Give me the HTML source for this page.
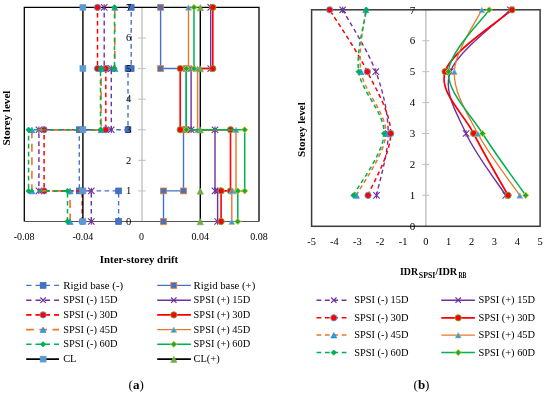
<!DOCTYPE html>
<html><head><meta charset="utf-8"><title>Inter-storey drift and IDR ratio</title>
<style>html,body{margin:0;padding:0;background:#fff;}body{width:550px;height:395px;overflow:hidden;}svg{display:block;}</style>
</head><body>
<svg width="550" height="395" viewBox="0 0 550 395" font-family="'Liberation Serif', serif" fill="#000">
<line x1="142" y1="8.1" x2="142" y2="221.5" stroke="#BFBFBF" stroke-width="1.3"/>
<line x1="138.2" y1="221.5" x2="145.7" y2="221.5" stroke="#BFBFBF" stroke-width="1"/>
<line x1="138.2" y1="190.91" x2="145.7" y2="190.91" stroke="#BFBFBF" stroke-width="1"/>
<line x1="138.2" y1="160.33" x2="145.7" y2="160.33" stroke="#BFBFBF" stroke-width="1"/>
<line x1="138.2" y1="129.74" x2="145.7" y2="129.74" stroke="#BFBFBF" stroke-width="1"/>
<line x1="138.2" y1="99.16" x2="145.7" y2="99.16" stroke="#BFBFBF" stroke-width="1"/>
<line x1="138.2" y1="68.57" x2="145.7" y2="68.57" stroke="#BFBFBF" stroke-width="1"/>
<line x1="138.2" y1="37.99" x2="145.7" y2="37.99" stroke="#BFBFBF" stroke-width="1"/>
<line x1="138.2" y1="7.4" x2="145.7" y2="7.4" stroke="#BFBFBF" stroke-width="1"/>
<path d="M24.3 221.5V7.4H259V221.5" fill="none" stroke="#000" stroke-width="1.3"/>
<line x1="24.3" y1="221.5" x2="259" y2="221.5" stroke="#555" stroke-width="1.2"/>
<line x1="425.85" y1="10.6" x2="425.85" y2="226.3" stroke="#BFBFBF" stroke-width="1.4"/>
<line x1="422.35" y1="226.3" x2="429.35" y2="226.3" stroke="#BFBFBF" stroke-width="1"/>
<line x1="422.35" y1="195.37" x2="429.35" y2="195.37" stroke="#BFBFBF" stroke-width="1"/>
<line x1="422.35" y1="164.44" x2="429.35" y2="164.44" stroke="#BFBFBF" stroke-width="1"/>
<line x1="422.35" y1="133.51" x2="429.35" y2="133.51" stroke="#BFBFBF" stroke-width="1"/>
<line x1="422.35" y1="102.59" x2="429.35" y2="102.59" stroke="#BFBFBF" stroke-width="1"/>
<line x1="422.35" y1="71.66" x2="429.35" y2="71.66" stroke="#BFBFBF" stroke-width="1"/>
<line x1="422.35" y1="40.73" x2="429.35" y2="40.73" stroke="#BFBFBF" stroke-width="1"/>
<line x1="422.35" y1="9.8" x2="429.35" y2="9.8" stroke="#BFBFBF" stroke-width="1"/>
<rect x="311.6" y="9.8" width="228.5" height="216.5" fill="none" stroke="#3A3A3A" stroke-width="1.5"/>
<polyline points="118.6,221.5 118.6,190.91 79.3,190.91 79.3,129.74 128,129.74 128,68.57 131.2,68.57 131.2,7.4" fill="none" stroke="#4472C4" stroke-width="1.4" stroke-dasharray="4.6 3.4" stroke-linejoin="round"/>
<rect x="115.7" y="218.6" width="5.8" height="5.8" fill="#4472C4" stroke="#3A62AE" stroke-width="0.7"/>
<rect x="115.7" y="188.01" width="5.8" height="5.8" fill="#4472C4" stroke="#3A62AE" stroke-width="0.7"/>
<rect x="76.4" y="188.01" width="5.8" height="5.8" fill="#4472C4" stroke="#3A62AE" stroke-width="0.7"/>
<rect x="76.4" y="126.84" width="5.8" height="5.8" fill="#4472C4" stroke="#3A62AE" stroke-width="0.7"/>
<rect x="125.1" y="126.84" width="5.8" height="5.8" fill="#4472C4" stroke="#3A62AE" stroke-width="0.7"/>
<rect x="125.1" y="65.67" width="5.8" height="5.8" fill="#4472C4" stroke="#3A62AE" stroke-width="0.7"/>
<rect x="128.3" y="65.67" width="5.8" height="5.8" fill="#4472C4" stroke="#3A62AE" stroke-width="0.7"/>
<rect x="128.3" y="4.5" width="5.8" height="5.8" fill="#4472C4" stroke="#3A62AE" stroke-width="0.7"/>
<polyline points="163.5,221.5 163.5,190.91 183.5,190.91 183.5,129.74 186.2,129.74 186.2,68.57 160.6,68.57 160.6,7.4" fill="none" stroke="#4472C4" stroke-width="1.4" stroke-linejoin="round"/>
<rect x="160.6" y="218.6" width="5.8" height="5.8" fill="#4472C4" stroke="#EC7629" stroke-width="0.8"/>
<rect x="160.6" y="188.01" width="5.8" height="5.8" fill="#4472C4" stroke="#EC7629" stroke-width="0.8"/>
<rect x="180.6" y="188.01" width="5.8" height="5.8" fill="#4472C4" stroke="#EC7629" stroke-width="0.8"/>
<rect x="180.6" y="126.84" width="5.8" height="5.8" fill="#4472C4" stroke="#EC7629" stroke-width="0.8"/>
<rect x="183.3" y="126.84" width="5.8" height="5.8" fill="#4472C4" stroke="#EC7629" stroke-width="0.8"/>
<rect x="183.3" y="65.67" width="5.8" height="5.8" fill="#4472C4" stroke="#EC7629" stroke-width="0.8"/>
<rect x="157.7" y="65.67" width="5.8" height="5.8" fill="#4472C4" stroke="#EC7629" stroke-width="0.8"/>
<rect x="157.7" y="4.5" width="5.8" height="5.8" fill="#4472C4" stroke="#EC7629" stroke-width="0.8"/>
<polyline points="91.3,221.5 91.3,190.91 38.9,190.91 38.9,129.74 111.3,129.74 111.3,68.57 104.2,68.57 104.2,7.4" fill="none" stroke="#7030A0" stroke-width="1.4" stroke-dasharray="4.6 3.4" stroke-linejoin="round"/>
<path d="M88.1 218.3L94.5 224.7M88.1 224.7L94.5 218.3M91.3 218.3V224.7" stroke="#7030A0" stroke-width="1.1" fill="none"/>
<path d="M88.1 187.71L94.5 194.11M88.1 194.11L94.5 187.71M91.3 187.71V194.11" stroke="#7030A0" stroke-width="1.1" fill="none"/>
<path d="M35.7 187.71L42.1 194.11M35.7 194.11L42.1 187.71M38.9 187.71V194.11" stroke="#7030A0" stroke-width="1.1" fill="none"/>
<path d="M35.7 126.54L42.1 132.94M35.7 132.94L42.1 126.54M38.9 126.54V132.94" stroke="#7030A0" stroke-width="1.1" fill="none"/>
<path d="M108.1 126.54L114.5 132.94M108.1 132.94L114.5 126.54M111.3 126.54V132.94" stroke="#7030A0" stroke-width="1.1" fill="none"/>
<path d="M108.1 65.37L114.5 71.77M108.1 71.77L114.5 65.37M111.3 65.37V71.77" stroke="#7030A0" stroke-width="1.1" fill="none"/>
<path d="M101 65.37L107.4 71.77M101 71.77L107.4 65.37M104.2 65.37V71.77" stroke="#7030A0" stroke-width="1.1" fill="none"/>
<path d="M101 4.2L107.4 10.6M101 10.6L107.4 4.2M104.2 4.2V10.6" stroke="#7030A0" stroke-width="1.1" fill="none"/>
<polyline points="217.6,221.5 217.6,190.91 215,190.91 215,129.74 191.1,129.74 191.1,68.57 210.7,68.57 210.7,7.4" fill="none" stroke="#7030A0" stroke-width="1.4" stroke-linejoin="round"/>
<path d="M214.4 218.3L220.8 224.7M214.4 224.7L220.8 218.3M217.6 218.3V224.7" stroke="#7030A0" stroke-width="1.1" fill="none"/>
<path d="M214.4 187.71L220.8 194.11M214.4 194.11L220.8 187.71M217.6 187.71V194.11" stroke="#7030A0" stroke-width="1.1" fill="none"/>
<path d="M211.8 187.71L218.2 194.11M211.8 194.11L218.2 187.71M215 187.71V194.11" stroke="#7030A0" stroke-width="1.1" fill="none"/>
<path d="M211.8 126.54L218.2 132.94M211.8 132.94L218.2 126.54M215 126.54V132.94" stroke="#7030A0" stroke-width="1.1" fill="none"/>
<path d="M187.9 126.54L194.3 132.94M187.9 132.94L194.3 126.54M191.1 126.54V132.94" stroke="#7030A0" stroke-width="1.1" fill="none"/>
<path d="M187.9 65.37L194.3 71.77M187.9 71.77L194.3 65.37M191.1 65.37V71.77" stroke="#7030A0" stroke-width="1.1" fill="none"/>
<path d="M207.5 65.37L213.9 71.77M207.5 71.77L213.9 65.37M210.7 65.37V71.77" stroke="#7030A0" stroke-width="1.1" fill="none"/>
<path d="M207.5 4.2L213.9 10.6M207.5 10.6L213.9 4.2M210.7 4.2V10.6" stroke="#7030A0" stroke-width="1.1" fill="none"/>
<polyline points="82.2,221.5 82.2,190.91 44.1,190.91 44.1,129.74 105.8,129.74 105.8,68.57 97.5,68.57 97.5,7.4" fill="none" stroke="#FF0000" stroke-width="1.5" stroke-dasharray="4.6 3.4" stroke-linejoin="round"/>
<circle cx="82.2" cy="221.5" r="3.15" fill="#FF0000" stroke="#5B9BD5" stroke-width="0.9"/>
<circle cx="82.2" cy="190.91" r="3.15" fill="#FF0000" stroke="#5B9BD5" stroke-width="0.9"/>
<circle cx="44.1" cy="190.91" r="3.15" fill="#FF0000" stroke="#5B9BD5" stroke-width="0.9"/>
<circle cx="44.1" cy="129.74" r="3.15" fill="#FF0000" stroke="#5B9BD5" stroke-width="0.9"/>
<circle cx="105.8" cy="129.74" r="3.15" fill="#FF0000" stroke="#5B9BD5" stroke-width="0.9"/>
<circle cx="105.8" cy="68.57" r="3.15" fill="#FF0000" stroke="#5B9BD5" stroke-width="0.9"/>
<circle cx="97.5" cy="68.57" r="3.15" fill="#FF0000" stroke="#5B9BD5" stroke-width="0.9"/>
<circle cx="97.5" cy="7.4" r="3.15" fill="#FF0000" stroke="#5B9BD5" stroke-width="0.9"/>
<polyline points="221.1,221.5 221.1,190.91 230.5,190.91 230.5,129.74 180.2,129.74 180.2,68.57 212.8,68.57 212.8,7.4" fill="none" stroke="#FF0000" stroke-width="1.6" stroke-linejoin="round"/>
<circle cx="221.1" cy="221.5" r="3.15" fill="#FF0000" stroke="#70AD47" stroke-width="0.9"/>
<circle cx="221.1" cy="190.91" r="3.15" fill="#FF0000" stroke="#70AD47" stroke-width="0.9"/>
<circle cx="230.5" cy="190.91" r="3.15" fill="#FF0000" stroke="#70AD47" stroke-width="0.9"/>
<circle cx="230.5" cy="129.74" r="3.15" fill="#FF0000" stroke="#70AD47" stroke-width="0.9"/>
<circle cx="180.2" cy="129.74" r="3.15" fill="#FF0000" stroke="#70AD47" stroke-width="0.9"/>
<circle cx="180.2" cy="68.57" r="3.15" fill="#FF0000" stroke="#70AD47" stroke-width="0.9"/>
<circle cx="212.8" cy="68.57" r="3.15" fill="#FF0000" stroke="#70AD47" stroke-width="0.9"/>
<circle cx="212.8" cy="7.4" r="3.15" fill="#FF0000" stroke="#70AD47" stroke-width="0.9"/>
<polyline points="70.1,221.5 70.1,190.91 31.9,190.91 31.9,129.74 101.1,129.74 101.1,68.57 114.8,68.57 114.8,7.4" fill="none" stroke="#EC7629" stroke-width="1.6" stroke-dasharray="8 5.5" stroke-linejoin="round"/>
<path d="M70.1 218.9L73.1 224.4L67.1 224.4Z" fill="#12A6F0" stroke="#4472C4" stroke-width="0.6" stroke-linejoin="round"/>
<path d="M70.1 188.31L73.1 193.81L67.1 193.81Z" fill="#12A6F0" stroke="#4472C4" stroke-width="0.6" stroke-linejoin="round"/>
<path d="M31.9 188.31L34.9 193.81L28.9 193.81Z" fill="#12A6F0" stroke="#4472C4" stroke-width="0.6" stroke-linejoin="round"/>
<path d="M31.9 127.14L34.9 132.64L28.9 132.64Z" fill="#12A6F0" stroke="#4472C4" stroke-width="0.6" stroke-linejoin="round"/>
<path d="M101.1 127.14L104.1 132.64L98.1 132.64Z" fill="#12A6F0" stroke="#4472C4" stroke-width="0.6" stroke-linejoin="round"/>
<path d="M101.1 65.97L104.1 71.47L98.1 71.47Z" fill="#12A6F0" stroke="#4472C4" stroke-width="0.6" stroke-linejoin="round"/>
<path d="M114.8 65.97L117.8 71.47L111.8 71.47Z" fill="#12A6F0" stroke="#4472C4" stroke-width="0.6" stroke-linejoin="round"/>
<path d="M114.8 4.8L117.8 10.3L111.8 10.3Z" fill="#12A6F0" stroke="#4472C4" stroke-width="0.6" stroke-linejoin="round"/>
<polyline points="231.8,221.5 231.8,190.91 236,190.91 236,129.74 197.6,129.74 197.6,68.57 188.5,68.57 188.5,7.4" fill="none" stroke="#EC7629" stroke-width="1.4" stroke-linejoin="round"/>
<path d="M231.8 218.9L234.8 224.4L228.8 224.4Z" fill="#12A6F0" stroke="#F4A070" stroke-width="0.6" stroke-linejoin="round"/>
<path d="M231.8 188.31L234.8 193.81L228.8 193.81Z" fill="#12A6F0" stroke="#F4A070" stroke-width="0.6" stroke-linejoin="round"/>
<path d="M236 188.31L239 193.81L233 193.81Z" fill="#12A6F0" stroke="#F4A070" stroke-width="0.6" stroke-linejoin="round"/>
<path d="M236 127.14L239 132.64L233 132.64Z" fill="#12A6F0" stroke="#F4A070" stroke-width="0.6" stroke-linejoin="round"/>
<path d="M197.6 127.14L200.6 132.64L194.6 132.64Z" fill="#12A6F0" stroke="#F4A070" stroke-width="0.6" stroke-linejoin="round"/>
<path d="M197.6 65.97L200.6 71.47L194.6 71.47Z" fill="#12A6F0" stroke="#F4A070" stroke-width="0.6" stroke-linejoin="round"/>
<path d="M188.5 65.97L191.5 71.47L185.5 71.47Z" fill="#12A6F0" stroke="#F4A070" stroke-width="0.6" stroke-linejoin="round"/>
<path d="M188.5 4.8L191.5 10.3L185.5 10.3Z" fill="#12A6F0" stroke="#F4A070" stroke-width="0.6" stroke-linejoin="round"/>
<polyline points="67.5,221.5 67.5,190.91 28.6,190.91 28.6,129.74 100.5,129.74 100.5,68.57 114.5,68.57 114.5,7.4" fill="none" stroke="#00B050" stroke-width="1.5" stroke-dasharray="4.6 3.4" stroke-linejoin="round"/>
<path d="M67.5 218.8L70.2 221.5L67.5 224.2L64.8 221.5Z" fill="#00B050" stroke="#00B050" stroke-width="0.7"/>
<path d="M67.5 188.21L70.2 190.91L67.5 193.61L64.8 190.91Z" fill="#00B050" stroke="#00B050" stroke-width="0.7"/>
<path d="M28.6 188.21L31.3 190.91L28.6 193.61L25.9 190.91Z" fill="#00B050" stroke="#00B050" stroke-width="0.7"/>
<path d="M28.6 127.04L31.3 129.74L28.6 132.44L25.9 129.74Z" fill="#00B050" stroke="#00B050" stroke-width="0.7"/>
<path d="M100.5 127.04L103.2 129.74L100.5 132.44L97.8 129.74Z" fill="#00B050" stroke="#00B050" stroke-width="0.7"/>
<path d="M100.5 65.87L103.2 68.57L100.5 71.27L97.8 68.57Z" fill="#00B050" stroke="#00B050" stroke-width="0.7"/>
<path d="M114.5 65.87L117.2 68.57L114.5 71.27L111.8 68.57Z" fill="#00B050" stroke="#00B050" stroke-width="0.7"/>
<path d="M114.5 4.7L117.2 7.4L114.5 10.1L111.8 7.4Z" fill="#00B050" stroke="#00B050" stroke-width="0.7"/>
<polyline points="237.8,221.5 237.8,190.91 244.7,190.91 244.7,129.74 186.3,129.74 186.3,68.57 194,68.57 194,7.4" fill="none" stroke="#00B050" stroke-width="1.5" stroke-linejoin="round"/>
<path d="M237.8 218.4L240.9 221.5L237.8 224.6L234.7 221.5Z" fill="#00B050" stroke="#FFC000" stroke-width="0.95"/>
<path d="M237.8 187.81L240.9 190.91L237.8 194.01L234.7 190.91Z" fill="#00B050" stroke="#FFC000" stroke-width="0.95"/>
<path d="M244.7 187.81L247.8 190.91L244.7 194.01L241.6 190.91Z" fill="#00B050" stroke="#FFC000" stroke-width="0.95"/>
<path d="M244.7 126.64L247.8 129.74L244.7 132.84L241.6 129.74Z" fill="#00B050" stroke="#FFC000" stroke-width="0.95"/>
<path d="M186.3 126.64L189.4 129.74L186.3 132.84L183.2 129.74Z" fill="#00B050" stroke="#FFC000" stroke-width="0.95"/>
<path d="M186.3 65.47L189.4 68.57L186.3 71.67L183.2 68.57Z" fill="#00B050" stroke="#FFC000" stroke-width="0.95"/>
<path d="M194 65.47L197.1 68.57L194 71.67L190.9 68.57Z" fill="#00B050" stroke="#FFC000" stroke-width="0.95"/>
<path d="M194 4.3L197.1 7.4L194 10.5L190.9 7.4Z" fill="#00B050" stroke="#FFC000" stroke-width="0.95"/>
<line x1="82.9" y1="221.5" x2="82.9" y2="7.4" stroke="#000" stroke-width="1.4"/>
<rect x="79.9" y="218.5" width="6" height="6" fill="#5B9BD5" stroke="#5B9BD5" stroke-width="0.5"/>
<rect x="79.9" y="187.91" width="6" height="6" fill="#5B9BD5" stroke="#5B9BD5" stroke-width="0.5"/>
<rect x="79.9" y="126.74" width="6" height="6" fill="#5B9BD5" stroke="#5B9BD5" stroke-width="0.5"/>
<rect x="79.9" y="65.57" width="6" height="6" fill="#5B9BD5" stroke="#5B9BD5" stroke-width="0.5"/>
<rect x="79.9" y="4.4" width="6" height="6" fill="#5B9BD5" stroke="#5B9BD5" stroke-width="0.5"/>
<line x1="200.3" y1="221.5" x2="200.3" y2="7.4" stroke="#000" stroke-width="1.4"/>
<path d="M200.3 218.6L203.5 224.8L197.1 224.8Z" fill="#70AD47" stroke="#70AD47" stroke-width="0.5" stroke-linejoin="round"/>
<path d="M200.3 188.01L203.5 194.21L197.1 194.21Z" fill="#70AD47" stroke="#70AD47" stroke-width="0.5" stroke-linejoin="round"/>
<path d="M200.3 126.84L203.5 133.04L197.1 133.04Z" fill="#70AD47" stroke="#70AD47" stroke-width="0.5" stroke-linejoin="round"/>
<path d="M200.3 65.67L203.5 71.87L197.1 71.87Z" fill="#70AD47" stroke="#70AD47" stroke-width="0.5" stroke-linejoin="round"/>
<path d="M200.3 4.5L203.5 10.7L197.1 10.7Z" fill="#70AD47" stroke="#70AD47" stroke-width="0.5" stroke-linejoin="round"/>
<path d="M376.49 195.37C378.44 185.06 388.26 154.13 388.15 133.51C388.03 112.9 383.39 92.28 375.81 71.66C368.23 51.04 348.2 20.11 342.68 9.8" fill="none" stroke="#7030A0" stroke-width="1.4" stroke-dasharray="4.2 3.2"/>
<path d="M368.04 195.37C371.81 185.06 390.78 154.13 390.66 133.51C390.55 112.9 377.52 92.28 367.35 71.66C357.19 51.04 335.94 20.11 329.65 9.8" fill="none" stroke="#FF0000" stroke-width="1.5" stroke-dasharray="4.2 3.2"/>
<path d="M356.39 195.37C361.3 185.06 385.1 154.13 385.86 133.51C386.62 112.9 364.31 92.28 360.96 71.66C357.6 51.04 364.95 20.11 365.75 9.8" fill="none" stroke="#EC7629" stroke-width="1.5" stroke-dasharray="4.2 3.2"/>
<path d="M353.42 195.37C358.52 185.06 383.16 154.13 384.03 133.51C384.91 112.9 361.6 92.28 358.67 71.66C355.74 51.04 365.15 20.11 366.44 9.8" fill="none" stroke="#00B050" stroke-width="1.5" stroke-dasharray="4.2 3.2"/>
<path d="M505.83 195.37C499.2 185.06 475.32 154.13 466.07 133.51C456.81 112.9 442.91 92.28 450.3 71.66C457.69 51.04 500.38 20.11 510.4 9.8" fill="none" stroke="#7030A0" stroke-width="1.4"/>
<path d="M508.11 195.37C502.36 185.06 484.12 154.13 473.61 133.51C463.1 112.9 438.65 92.28 445.04 71.66C451.44 51.04 500.84 20.11 511.99 9.8" fill="none" stroke="#FF0000" stroke-width="1.7"/>
<path d="M519.76 195.37C512.76 185.06 488.63 154.13 477.72 133.51C466.81 112.9 453.61 92.28 454.3 71.66C454.98 51.04 477.24 20.11 481.83 9.8" fill="none" stroke="#EC7629" stroke-width="1.3"/>
<path d="M525.7 195.37C518.51 185.06 495.39 154.13 482.52 133.51C469.65 112.9 447.37 92.28 448.47 71.66C449.58 51.04 482.37 20.11 489.14 9.8" fill="none" stroke="#00B050" stroke-width="1.5"/>
<path d="M373.29 192.17L379.69 198.57M373.29 198.57L379.69 192.17M376.49 192.17V198.57" stroke="#7030A0" stroke-width="1.1" fill="none"/>
<path d="M384.95 130.31L391.35 136.71M384.95 136.71L391.35 130.31M388.15 130.31V136.71" stroke="#7030A0" stroke-width="1.1" fill="none"/>
<path d="M372.61 68.46L379.01 74.86M372.61 74.86L379.01 68.46M375.81 68.46V74.86" stroke="#7030A0" stroke-width="1.1" fill="none"/>
<path d="M339.48 6.6L345.88 13M339.48 13L345.88 6.6M342.68 6.6V13" stroke="#7030A0" stroke-width="1.1" fill="none"/>
<circle cx="368.04" cy="195.37" r="3.15" fill="#FF0000" stroke="#5B9BD5" stroke-width="0.9"/>
<circle cx="390.66" cy="133.51" r="3.15" fill="#FF0000" stroke="#5B9BD5" stroke-width="0.9"/>
<circle cx="367.35" cy="71.66" r="3.15" fill="#FF0000" stroke="#5B9BD5" stroke-width="0.9"/>
<circle cx="329.65" cy="9.8" r="3.15" fill="#FF0000" stroke="#5B9BD5" stroke-width="0.9"/>
<path d="M356.39 192.77L359.39 198.27L353.39 198.27Z" fill="#12A6F0" stroke="#4472C4" stroke-width="0.6" stroke-linejoin="round"/>
<path d="M385.86 130.91L388.86 136.41L382.86 136.41Z" fill="#12A6F0" stroke="#4472C4" stroke-width="0.6" stroke-linejoin="round"/>
<path d="M360.96 69.06L363.96 74.56L357.96 74.56Z" fill="#12A6F0" stroke="#4472C4" stroke-width="0.6" stroke-linejoin="round"/>
<path d="M365.75 7.2L368.75 12.7L362.75 12.7Z" fill="#12A6F0" stroke="#4472C4" stroke-width="0.6" stroke-linejoin="round"/>
<path d="M353.42 192.67L356.12 195.37L353.42 198.07L350.72 195.37Z" fill="#00B050" stroke="#00B050" stroke-width="0.7"/>
<path d="M384.03 130.81L386.73 133.51L384.03 136.21L381.33 133.51Z" fill="#00B050" stroke="#00B050" stroke-width="0.7"/>
<path d="M358.67 68.96L361.37 71.66L358.67 74.36L355.97 71.66Z" fill="#00B050" stroke="#00B050" stroke-width="0.7"/>
<path d="M366.44 7.1L369.14 9.8L366.44 12.5L363.74 9.8Z" fill="#00B050" stroke="#00B050" stroke-width="0.7"/>
<path d="M502.63 192.17L509.03 198.57M502.63 198.57L509.03 192.17M505.83 192.17V198.57" stroke="#7030A0" stroke-width="1.1" fill="none"/>
<path d="M462.87 130.31L469.27 136.71M462.87 136.71L469.27 130.31M466.07 130.31V136.71" stroke="#7030A0" stroke-width="1.1" fill="none"/>
<path d="M447.1 68.46L453.5 74.86M447.1 74.86L453.5 68.46M450.3 68.46V74.86" stroke="#7030A0" stroke-width="1.1" fill="none"/>
<path d="M507.2 6.6L513.6 13M507.2 13L513.6 6.6M510.4 6.6V13" stroke="#7030A0" stroke-width="1.1" fill="none"/>
<circle cx="508.11" cy="195.37" r="3.15" fill="#FF0000" stroke="#70AD47" stroke-width="0.9"/>
<circle cx="473.61" cy="133.51" r="3.15" fill="#FF0000" stroke="#70AD47" stroke-width="0.9"/>
<circle cx="445.04" cy="71.66" r="3.15" fill="#FF0000" stroke="#70AD47" stroke-width="0.9"/>
<circle cx="511.99" cy="9.8" r="3.15" fill="#FF0000" stroke="#70AD47" stroke-width="0.9"/>
<path d="M519.76 192.77L522.76 198.27L516.76 198.27Z" fill="#12A6F0" stroke="#F4A070" stroke-width="0.6" stroke-linejoin="round"/>
<path d="M477.72 130.91L480.72 136.41L474.72 136.41Z" fill="#12A6F0" stroke="#F4A070" stroke-width="0.6" stroke-linejoin="round"/>
<path d="M454.3 69.06L457.3 74.56L451.3 74.56Z" fill="#12A6F0" stroke="#F4A070" stroke-width="0.6" stroke-linejoin="round"/>
<path d="M481.83 7.2L484.83 12.7L478.83 12.7Z" fill="#12A6F0" stroke="#F4A070" stroke-width="0.6" stroke-linejoin="round"/>
<path d="M525.7 192.27L528.8 195.37L525.7 198.47L522.6 195.37Z" fill="#00B050" stroke="#FFC000" stroke-width="0.95"/>
<path d="M482.52 130.41L485.62 133.51L482.52 136.61L479.42 133.51Z" fill="#00B050" stroke="#FFC000" stroke-width="0.95"/>
<path d="M448.47 68.56L451.57 71.66L448.47 74.76L445.37 71.66Z" fill="#00B050" stroke="#FFC000" stroke-width="0.95"/>
<path d="M489.14 6.7L492.24 9.8L489.14 12.9L486.04 9.8Z" fill="#00B050" stroke="#FFC000" stroke-width="0.95"/>
<text x="131.3" y="224.7" font-size="10.6" text-anchor="end">0</text>
<text x="131.3" y="194.11" font-size="10.6" text-anchor="end">1</text>
<text x="131.3" y="163.53" font-size="10.6" text-anchor="end">2</text>
<text x="131.3" y="132.94" font-size="10.6" text-anchor="end">3</text>
<text x="131.3" y="102.36" font-size="10.6" text-anchor="end">4</text>
<text x="131.3" y="71.77" font-size="10.6" text-anchor="end">5</text>
<text x="131.3" y="41.19" font-size="10.6" text-anchor="end">6</text>
<text x="131.3" y="10.6" font-size="10.6" text-anchor="end">7</text>
<text x="24.2" y="239.9" font-size="10" text-anchor="middle">-0.08</text>
<text x="82.9" y="239.9" font-size="10" text-anchor="middle">-0.04</text>
<text x="141.6" y="239.9" font-size="10" text-anchor="middle">0</text>
<text x="200.3" y="239.9" font-size="10" text-anchor="middle">0.04</text>
<text x="259" y="239.9" font-size="10" text-anchor="middle">0.08</text>
<text x="139" y="263.2" font-size="10.8" text-anchor="middle" font-weight="bold">Inter-storey drift</text>
<text transform="translate(9.6 118.1) rotate(-90)" font-size="10.8" font-weight="bold" text-anchor="middle" textLength="55" lengthAdjust="spacingAndGlyphs">Storey level</text>
<text x="415.2" y="230" font-size="11" text-anchor="end">0</text>
<text x="415.2" y="199.07" font-size="11" text-anchor="end">1</text>
<text x="415.2" y="168.14" font-size="11" text-anchor="end">2</text>
<text x="415.2" y="137.21" font-size="11" text-anchor="end">3</text>
<text x="415.2" y="106.29" font-size="11" text-anchor="end">4</text>
<text x="415.2" y="75.36" font-size="11" text-anchor="end">5</text>
<text x="415.2" y="44.43" font-size="11" text-anchor="end">6</text>
<text x="415.2" y="13.5" font-size="11" text-anchor="end">7</text>
<text x="311.6" y="244.8" font-size="10.4" text-anchor="middle">-5</text>
<text x="334.45" y="244.8" font-size="10.4" text-anchor="middle">-4</text>
<text x="357.3" y="244.8" font-size="10.4" text-anchor="middle">-3</text>
<text x="380.15" y="244.8" font-size="10.4" text-anchor="middle">-2</text>
<text x="403" y="244.8" font-size="10.4" text-anchor="middle">-1</text>
<text x="425.85" y="244.8" font-size="10.4" text-anchor="middle">0</text>
<text x="448.7" y="244.8" font-size="10.4" text-anchor="middle">1</text>
<text x="471.55" y="244.8" font-size="10.4" text-anchor="middle">2</text>
<text x="494.4" y="244.8" font-size="10.4" text-anchor="middle">3</text>
<text x="517.25" y="244.8" font-size="10.4" text-anchor="middle">4</text>
<text x="540.1" y="244.8" font-size="10.4" text-anchor="middle">5</text>
<text transform="translate(304.7 129.6) rotate(-90)" font-size="10.6" font-weight="bold" text-anchor="middle" textLength="54.7" lengthAdjust="spacingAndGlyphs">Storey level</text>
<text y="274.6" font-size="10.3" font-weight="bold"><tspan x="400" textLength="18" lengthAdjust="spacingAndGlyphs">IDR</tspan><tspan x="418.8" y="277.5" font-size="7.5" textLength="16.6" lengthAdjust="spacingAndGlyphs">SPSI</tspan><tspan x="435.6" y="274.6" textLength="21.6" lengthAdjust="spacingAndGlyphs">/IDR</tspan><tspan x="458.4" y="277.5" font-size="7.5" textLength="8" lengthAdjust="spacingAndGlyphs">RB</tspan></text>
<line x1="26.2" y1="285.4" x2="59" y2="285.4" stroke="#4472C4" stroke-width="1.4" stroke-dasharray="5.3 4"/>
<rect x="40.2" y="282.5" width="5.8" height="5.8" fill="#4472C4" stroke="#3A62AE" stroke-width="0.7"/>
<text x="63.2" y="288.5" font-size="10.4" text-anchor="start" textLength="60.0" lengthAdjust="spacingAndGlyphs">Rigid base (-)</text>
<line x1="26.2" y1="300.2" x2="59" y2="300.2" stroke="#7030A0" stroke-width="1.4" stroke-dasharray="5.3 4"/>
<path d="M40.4 297.5L45.8 302.9M40.4 302.9L45.8 297.5" stroke="#7030A0" stroke-width="1.2" fill="none"/>
<text x="63.2" y="303.3" font-size="10.4" text-anchor="start">SPSI (-) 15D</text>
<line x1="26.2" y1="314.9" x2="59" y2="314.9" stroke="#FF0000" stroke-width="1.6" stroke-dasharray="5.3 4"/>
<circle cx="43.1" cy="314.9" r="3.15" fill="#FF0000" stroke="#5B9BD5" stroke-width="0.9"/>
<text x="63.2" y="318" font-size="10.4" text-anchor="start">SPSI (-) 30D</text>
<line x1="26.2" y1="329.6" x2="59" y2="329.6" stroke="#EC7629" stroke-width="1.7" stroke-dasharray="7.6 5.6"/>
<path d="M43.1 327L46.1 332.5L40.1 332.5Z" fill="#12A6F0" stroke="#4472C4" stroke-width="0.6" stroke-linejoin="round"/>
<text x="63.2" y="332.7" font-size="10.4" text-anchor="start">SPSI (-) 45D</text>
<line x1="26.2" y1="344.3" x2="59" y2="344.3" stroke="#00B050" stroke-width="1.5" stroke-dasharray="5.3 4"/>
<path d="M43.1 341.6L45.8 344.3L43.1 347L40.4 344.3Z" fill="#00B050" stroke="#00B050" stroke-width="0.7"/>
<text x="63.2" y="347.4" font-size="10.4" text-anchor="start">SPSI (-) 60D</text>
<line x1="26.2" y1="359.1" x2="59" y2="359.1" stroke="#000" stroke-width="1.6"/>
<rect x="40.1" y="356.1" width="6" height="6" fill="#5B9BD5" stroke="#5B9BD5" stroke-width="0.5"/>
<text x="63.2" y="362.2" font-size="10.4" text-anchor="start">CL</text>
<line x1="157.2" y1="285.4" x2="190.9" y2="285.4" stroke="#4472C4" stroke-width="1.4"/>
<rect x="170.9" y="282.5" width="5.8" height="5.8" fill="#4472C4" stroke="#EC7629" stroke-width="0.8"/>
<text x="193.6" y="288.5" font-size="10.4" text-anchor="start" textLength="61.7" lengthAdjust="spacingAndGlyphs">Rigid base (+)</text>
<line x1="157.2" y1="300.2" x2="190.9" y2="300.2" stroke="#7030A0" stroke-width="1.4"/>
<path d="M171.1 297.5L176.5 302.9M171.1 302.9L176.5 297.5" stroke="#7030A0" stroke-width="1.2" fill="none"/>
<text x="193.6" y="303.3" font-size="10.4" text-anchor="start">SPSI (+) 15D</text>
<line x1="157.2" y1="314.9" x2="190.9" y2="314.9" stroke="#FF0000" stroke-width="1.7"/>
<circle cx="173.8" cy="314.9" r="3.15" fill="#FF0000" stroke="#70AD47" stroke-width="0.9"/>
<text x="193.6" y="318" font-size="10.4" text-anchor="start">SPSI (+) 30D</text>
<line x1="157.2" y1="329.6" x2="190.9" y2="329.6" stroke="#EC7629" stroke-width="1.4"/>
<path d="M173.8 327L176.8 332.5L170.8 332.5Z" fill="#12A6F0" stroke="#F4A070" stroke-width="0.6" stroke-linejoin="round"/>
<text x="193.6" y="332.7" font-size="10.4" text-anchor="start">SPSI (+) 45D</text>
<line x1="157.2" y1="344.3" x2="190.9" y2="344.3" stroke="#00B050" stroke-width="1.5"/>
<path d="M173.8 341.2L176.9 344.3L173.8 347.4L170.7 344.3Z" fill="#00B050" stroke="#FFC000" stroke-width="0.95"/>
<text x="193.6" y="347.4" font-size="10.4" text-anchor="start">SPSI (+) 60D</text>
<line x1="157.2" y1="359.1" x2="190.9" y2="359.1" stroke="#000" stroke-width="1.6"/>
<path d="M173.8 356.2L177 362.4L170.6 362.4Z" fill="#70AD47" stroke="#70AD47" stroke-width="0.5" stroke-linejoin="round"/>
<text x="193.6" y="362.2" font-size="10.4" text-anchor="start">CL(+)</text>
<line x1="316.5" y1="300.2" x2="349.1" y2="300.2" stroke="#7030A0" stroke-width="1.4" stroke-dasharray="4.8 3.6"/>
<path d="M331.1 297.5L336.5 302.9M331.1 302.9L336.5 297.5" stroke="#7030A0" stroke-width="1.2" fill="none"/>
<text x="354.2" y="303.3" font-size="10.4" text-anchor="start">SPSI (-) 15D</text>
<line x1="316.5" y1="317.8" x2="349.1" y2="317.8" stroke="#FF0000" stroke-width="1.6" stroke-dasharray="4.8 3.6"/>
<circle cx="333.8" cy="317.8" r="3.15" fill="#FF0000" stroke="#5B9BD5" stroke-width="0.9"/>
<text x="354.2" y="320.9" font-size="10.4" text-anchor="start">SPSI (-) 30D</text>
<line x1="316.5" y1="335.1" x2="349.1" y2="335.1" stroke="#EC7629" stroke-width="1.5" stroke-dasharray="4.8 3.6"/>
<path d="M333.8 332.5L336.8 338L330.8 338Z" fill="#12A6F0" stroke="#4472C4" stroke-width="0.6" stroke-linejoin="round"/>
<text x="354.2" y="338.2" font-size="10.4" text-anchor="start">SPSI (-) 45D</text>
<line x1="316.5" y1="352.6" x2="349.1" y2="352.6" stroke="#00B050" stroke-width="1.5" stroke-dasharray="4.8 3.6"/>
<path d="M333.8 349.9L336.5 352.6L333.8 355.3L331.1 352.6Z" fill="#00B050" stroke="#00B050" stroke-width="0.7"/>
<text x="354.2" y="355.7" font-size="10.4" text-anchor="start">SPSI (-) 60D</text>
<line x1="441.3" y1="300.2" x2="474.9" y2="300.2" stroke="#7030A0" stroke-width="1.4"/>
<path d="M455.5 297.5L460.9 302.9M455.5 302.9L460.9 297.5" stroke="#7030A0" stroke-width="1.2" fill="none"/>
<text x="478.4" y="303.3" font-size="10.4" text-anchor="start">SPSI (+) 15D</text>
<line x1="441.3" y1="317.8" x2="474.9" y2="317.8" stroke="#FF0000" stroke-width="1.7"/>
<circle cx="458.2" cy="317.8" r="3.15" fill="#FF0000" stroke="#70AD47" stroke-width="0.9"/>
<text x="478.4" y="320.9" font-size="10.4" text-anchor="start">SPSI (+) 30D</text>
<line x1="441.3" y1="335.1" x2="474.9" y2="335.1" stroke="#EC7629" stroke-width="1.4"/>
<path d="M458.2 332.5L461.2 338L455.2 338Z" fill="#12A6F0" stroke="#F4A070" stroke-width="0.6" stroke-linejoin="round"/>
<text x="478.4" y="338.2" font-size="10.4" text-anchor="start">SPSI (+) 45D</text>
<line x1="441.3" y1="352.6" x2="474.9" y2="352.6" stroke="#00B050" stroke-width="1.5"/>
<path d="M458.2 349.5L461.3 352.6L458.2 355.7L455.1 352.6Z" fill="#00B050" stroke="#FFC000" stroke-width="0.95"/>
<text x="478.4" y="355.7" font-size="10.4" text-anchor="start">SPSI (+) 60D</text>
<text x="136.2" y="389.2" font-size="13" text-anchor="middle">(<tspan font-weight="bold">a</tspan>)</text>
<text x="421.5" y="389.2" font-size="13" text-anchor="middle">(<tspan font-weight="bold">b</tspan>)</text>
</svg>
</body></html>
